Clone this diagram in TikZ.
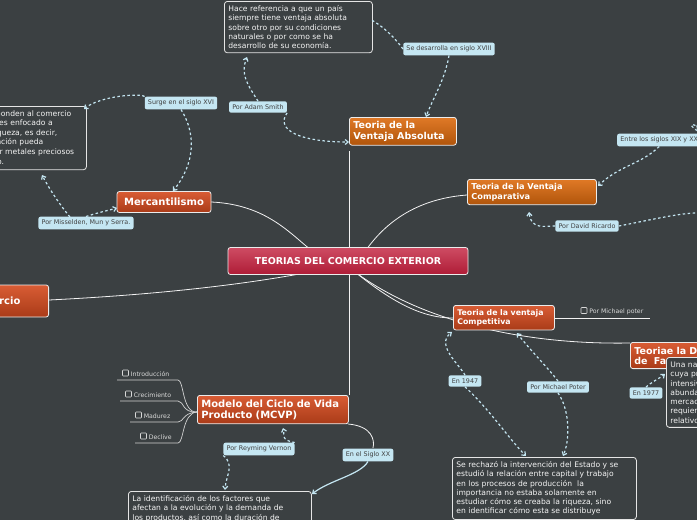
\documentclass[tikz,border=0pt]{standalone}
\usepackage{fontspec}
\setmainfont{DejaVu Sans}
\usetikzlibrary{arrows.meta}
\definecolor{bg}{HTML}{3B4042}
\definecolor{lbl}{HTML}{C4E6F2}
\definecolor{ora}{HTML}{DC6A0E}
\definecolor{red1}{HTML}{D44A1E}
\definecolor{crim}{HTML}{C21F3C}
\tikzset{
 x=1pt,y=-1pt,
 topic/.style={draw=white!85!gray,line width=0.8pt,rounded corners=2.5pt,text=white,font=\bfseries\fontsize{9.5}{10.5}\selectfont,align=left,inner sep=4pt,anchor=north west},
 tbox/.style={draw=white!80!gray,line width=0.8pt,rounded corners=3pt,fill=bg,text=white!92!gray,font=\fontsize{7.6}{9.3}\selectfont,align=left,inner sep=4pt,anchor=north west},
 lab/.style={fill=lbl,rounded corners=2pt,text=black!75,font=\fontsize{6.4}{7.5}\selectfont,inner sep=3.2pt},
 chk/.style={text=white!70!gray,font=\fontsize{6.2}{7}\selectfont,inner sep=1pt},
 link/.style={draw=white!90!gray,line width=0.8pt},
 dl/.style={draw=lbl,line width=1.2pt,dash pattern=on 2.5pt off 2.5pt,-{Straight Barb[length=3pt,width=5pt]}},
 dn/.style={draw=lbl,line width=1.2pt,dash pattern=on 2.5pt off 2.5pt},
}
\newcommand{\cb}{\tikz[baseline=0pt]\draw[white!70!gray,line width=0.6pt,rounded corners=0.8pt](0,0)rectangle(6pt,6pt);\hspace{2pt}}
\begin{document}
\begin{tikzpicture}
\useasboundingbox (0,0) rectangle (697,520);
\fill[bg] (0,0) rectangle (697,520);
\clip (0,0) rectangle (697,520);
% main links
\draw[link] (349,151) -- (349,395);
\draw[link] (211,202) .. controls (280,205) and (300,250) .. (330,262);
\draw[link] (49,300) .. controls (150,295) and (250,285) .. (330,268);
\draw[link] (467,195) .. controls (400,200) and (370,240) .. (355,268);
\draw[link] (355,272) .. controls (390,300) and (420,318) .. (453,318);
\draw[link] (355,272) .. controls (420,320) and (520,345) .. (630,343);
\draw[link] (554,318) -- (650,318);
\draw[link] (348,424) .. controls (372,426) and (375,440) .. (373,448);
% nodes
\node[topic,top color=crim!80!white,bottom color=crim!90!black,minimum width=240pt,minimum height=27pt,align=center,anchor=center] (c) at (348,261) {TEORIAS DEL COMERCIO EXTERIOR};
\node[topic,top color=ora!90!white,bottom color=ora!80!black,text width=99pt] (abs) at (349,117) {Teoria de la\\Ventaja Absoluta};
\node[topic,top color=ora!90!white,bottom color=ora!80!black,text width=121pt,font=\bfseries\fontsize{8.2}{9.4}\selectfont] (comp) at (467,179) {Teoria de la Ventaja\\Comparativa};
\node[topic,top color=red1!90!white,bottom color=red1!80!black,minimum width=94pt,minimum height=21pt,align=center,anchor=center,font=\bfseries\fontsize{10}{11}\selectfont] (mer) at (164,202) {Mercantilismo};
\node[topic,top color=red1!90!white,bottom color=red1!80!black,minimum width=95pt,minimum height=32pt,align=right,anchor=east,font=\bfseries\fontsize{10}{11}\selectfont] (com) at (49,301) {Comercio\hspace{14pt}};
\node[topic,top color=red1!90!white,bottom color=red1!80!black,text width=93pt,font=\bfseries\fontsize{7.8}{9}\selectfont] (cpt) at (453,305) {Teoria de la ventaja\\Competitiva};
\node[topic,top color=red1!90!white,bottom color=red1!80!black,text width=120pt] (fac) at (630,342) {Teoriae la Dotación\\de \ Factores};
\node[topic,top color=red1!90!white,bottom color=red1!80!black,text width=143pt,font=\bfseries\fontsize{10}{11.5}\selectfont] (mc) at (197,395) {Modelo del Ciclo de Vida\\Producto (MCVP)};
% text boxes
\node[tbox,text width=140pt] (t1) at (224,1) {Hace referencia a que un país\\siempre tiene ventaja absoluta\\sobre otro por su condiciones\\naturales o por como se ha\\desarrollo de su economía.};
\node[tbox,text width=100pt,font=\fontsize{7.6}{9.6}\selectfont] (t2) at (-22,106) {Responden al comercio\\que es enfocado a\\la riqueza, es decir,\\la nación pueda\\tener metales preciosos\\y oro.};
\node[tbox,text width=176pt] (t3) at (452,457) {Se rechazó la intervención del Estado y se\\estudió la relación entre capital y trabajo\\en los procesos de producción \ la\\importancia no estaba solamente en\\estudiar cómo se creaba la riqueza, sino\\en identificar cómo esta se distribuye};
\node[tbox,text width=175pt] (t4) at (128,491) {La identificación de los factores que\\afectan a la evolución y la demanda de\\los productos, así como la duración de};
\node[tbox,text width=80pt] (t5) at (666,357) {Una nación\\cuya producción\\intensiva\\abundante\\mercado\\requiere\\relativo};
% checkbox items
\node[chk] (m1) at (612,311) {\cb Por Michael poter};
\node[chk,anchor=west] (i1) at (121,373) {\cb Introducción};
\node[chk,anchor=west] (i2) at (124,394) {\cb Crecimiento};
\node[chk,anchor=west] (i3) at (134,415) {\cb Madurez};
\node[chk,anchor=west] (i4) at (139,436) {\cb Declive};
\foreach \y/\x in {373/117,394/120,415/130,436/135}{
 \draw[white!65!gray,line width=0.7pt] (\x,\y+7) -- (178,\y+7) .. controls (184,\y+7) and (182,413) .. (197,412);
}
% labels
\node[lab] (l1) at (258,107) {Por Adam Smith};
\node[lab] (l2) at (449,49) {Se desarrolla en siglo XVIII};
\node[lab] (l3) at (181,103) {Surge en el siglo XVI};
\node[lab] (l4) at (86,223) {Por Misselden, Mun y Serra.};
\node[lab,anchor=west] (l5) at (617,140) {Entre los siglos XIX y XX};
\node[lab] (l6) at (587,226) {Por David Ricardo};
\node[lab] (l7) at (465,381) {En 1947};
\node[lab] (l8) at (558,387) {Por Michael Poter};
\node[lab] (l9) at (646,393) {En 1977};
\node[lab] (l10) at (259,449) {Por Reyming Vernon};
\node[lab] (l11) at (368,455) {En el Siglo XX};
% dashed arrows
\draw[dl] (l1.south east) .. controls (275,130) and (300,142) .. (349,142);
\draw[dl] (l1.north) .. controls (248,85) and (240,75) .. (247,57);
\draw[dn] (l2.west) .. controls (385,25) and (370,20) .. (372,20);
\draw[dl] (l2.south) .. controls (445,80) and (432,100) .. (426,117);
\draw[dl] (l3.north west) .. controls (140,93) and (100,96) .. (84,109);
\draw[dl] (l3.south) .. controls (200,140) and (190,170) .. (173,191);
\draw[dl] (70,217) .. controls (60,205) and (50,190) .. (42,175);
\draw[dl] (l4.north) .. controls (100,212) and (110,210) .. (117,208);
\draw[dl] (l5.north east) .. controls (680,120) and (700,125) .. (697,130);
\draw[dl] (l5.south) .. controls (640,165) and (620,165) .. (598,186);
\draw[dl] (l6.west) .. controls (545,226) and (531,230) .. (529,212);
\draw[dn] (l6.east) .. controls (650,220) and (680,213) .. (697,213);
\draw[dl] (l7.north) .. controls (460,365) and (435,345) .. (452,332);
\draw[dl] (l7.south) .. controls (490,410) and (510,440) .. (526,456);
\draw[dl] (l8.north) .. controls (550,370) and (530,350) .. (517,333);
\draw[dl] (l8.south) .. controls (570,410) and (570,440) .. (563,456);
\draw[dl] (l9.north) .. controls (650,383) and (660,378) .. (665,374);
\draw[dl] (l10.north east) .. controls (280,440) and (285,435) .. (283,428);
\draw[dl] (l10.south west) .. controls (235,465) and (226,475) .. (225,490);
\draw[lbl,line width=1.2pt,-{Straight Barb[length=3pt,width=5pt]}] (l11.south) .. controls (360,475) and (330,480) .. (312,494);
\end{tikzpicture}
\end{document}
